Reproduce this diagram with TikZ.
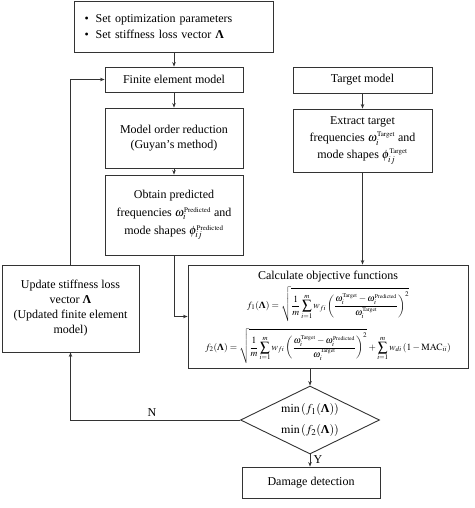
\documentclass[tikz,border=0pt]{standalone}
\usepackage{mathptmx}
\usepackage{fontspec}
\setmainfont{Liberation Serif}
\usetikzlibrary{arrows.meta,shapes.geometric,positioning,calc}

\newcommand{\tg}{{\scriptscriptstyle\mathrm{Target}}}
\newcommand{\pd}{{\scriptscriptstyle\mathrm{Predicted}}}
\newcommand{\Lam}{\mbox{\textbf{Λ}}}

\begin{document}
\begin{tikzpicture}[x = 1pt, y = -1pt, font = \fontsize{12}{15}\selectfont,
  box/.style = {draw = black!80, line width = 0.9pt, fill = white, align = center, inner sep = 2pt},
  flow/.style = {draw = black!80, line width = 0.8pt, -{Stealth[length = 4.5pt, width = 3.5pt]}},
  eqn/.style = {font = \fontsize{9.5}{11}\selectfont}]
\useasboundingbox (0, 0) rectangle (474, 508);

% left column
\node[box, minimum width = 199pt, minimum height = 51pt, align = left, text width = 186pt] (setup) at (173.5, 26.5)
  {\hspace*{4pt}\textbullet\hspace{7pt}Set optimization parameters\\[1pt] \hspace*{4pt}\textbullet\hspace{7pt}Set stiffness loss vector \Lam};
\node[box, minimum width = 138pt, minimum height = 25pt] (fem) at (174, 79.5) {Finite element model};
\node[box, minimum width = 138pt, minimum height = 60pt] (mor) at (174, 138) {Model order reduction\\(Guyan's method)};
\node[box, minimum width = 138pt, minimum height = 80pt] (obtain) at (174, 215)
  {Obtain predicted\\[3pt] frequencies $\omega_i^{\pd}$ and\\[3pt] mode shapes $\phi_{ij}^{\pd}$};

% right column
\node[box, minimum width = 139pt, minimum height = 26pt] (target) at (362.5, 80) {Target model};
\node[box, minimum width = 139pt, minimum height = 63pt] (extract) at (362.5, 140.5)
  {Extract target\\[2pt] frequencies $\omega_i^{\tg}$ and\\[2pt] mode shapes $\phi_{ij}^{\tg}$};

% objective functions
\node[box, minimum width = 280pt, minimum height = 103pt] (calc) at (328, 316.5) {};
\node[anchor = north] (calctitle) at ([yshift = -3pt] calc.north) {Calculate objective functions};
\node[eqn, below = -2pt of calctitle] (fone)
  {$\displaystyle f_1(\Lam) = \sqrt{\frac{1}{m}\sum_{i=1}^{m} w_{fi}\left(\frac{\omega_i^{\tg} - \omega_i^{\pd}}{\omega_i^{\tg}}\right)^{2}}$};
\node[eqn, below = 0pt of fone] (ftwo)
  {$\displaystyle f_2(\Lam) = \sqrt{\frac{1}{m}\sum_{i=1}^{m} w_{fi}\left(\frac{\omega_i^{\tg} - \omega_i^{\pd}}{\omega_i^{\tg}}\right)^{2}} + \sum_{i=1}^{m} w_{di}\left(1 - \mathrm{MAC}_{ii}\right)$};

\node[box, minimum width = 137pt, minimum height = 87pt] (update) at (70.5, 308.5)
  {Update stiffness loss\\vector \Lam\\(Updated finite element\\model)};

\node[box, diamond, aspect = 2.05, minimum width = 139pt, minimum height = 68pt, inner sep = 0pt] (decide) at (310, 420)
  {$\min\left(f_1(\Lam)\right)$\\[6pt] $\min\left(f_2(\Lam)\right)$};
\node[box, minimum width = 138pt, minimum height = 31pt] (damage) at (311, 482.5) {Damage detection};

% connectors
\draw[flow] (setup.south -| fem.north) -- (fem.north);
\draw[flow] (fem) -- (mor);
\draw[flow] (mor) -- (obtain);
\draw[flow] (target) -- (extract);
\draw[flow] (extract.south) -- (extract.south |- calc.north);
\draw[flow] (obtain.south) |- (calc.west);
\draw[flow] (calc.south -| decide.north) -- (decide.north);
\draw[flow] (decide.south) -- node[right, pos = 0.4] {Y} (decide.south |- damage.north);
\draw[flow] (decide.west) -| node[above, pos = 0.26] {N} (update.south);
\draw[flow] (update.north) |- (fem.west);
\end{tikzpicture}
\end{document}
